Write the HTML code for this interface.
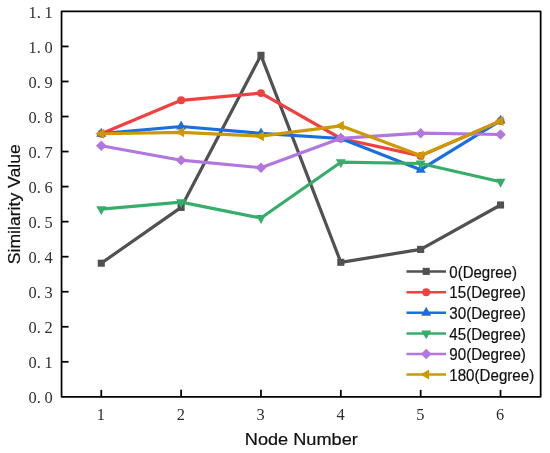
<!DOCTYPE html>
<html lang="en">
<head>
<meta charset="utf-8">
<title>Similarity Value vs Node Number</title>
<style>
html,body{margin:0;padding:0;background:#fff;}
body{width:550px;height:453px;overflow:hidden;}
svg{display:block;}
.tick{font-family:"Liberation Serif","Noto Serif CJK SC",serif;font-size:16.4px;fill:#303030;}
.lab{font-family:"Liberation Sans","Noto Sans CJK SC",sans-serif;font-size:16.2px;fill:#111;stroke:#111;stroke-width:0.2px;}
.leg{font-family:"Liberation Sans","Noto Sans CJK SC",sans-serif;font-size:15.6px;fill:#111;stroke:#111;stroke-width:0.2px;}
</style>
</head>
<body>
<svg width="550" height="453" viewBox="0 0 550 453">
<rect x="0" y="0" width="550" height="453" fill="#ffffff"/>
<g><polyline points="101.27,263.20 181.12,207.40 260.98,55.30 340.82,262.30 420.67,249.40 500.52,205.00" fill="none" stroke="#515151" stroke-width="3.2" stroke-linejoin="round" stroke-linecap="butt"/>
<rect x="97.72" y="259.65" width="7.1" height="7.1" fill="#515151"/>
<rect x="177.57" y="203.85" width="7.1" height="7.1" fill="#515151"/>
<rect x="257.43" y="51.75" width="7.1" height="7.1" fill="#515151"/>
<rect x="337.27" y="258.75" width="7.1" height="7.1" fill="#515151"/>
<rect x="417.12" y="245.85" width="7.1" height="7.1" fill="#515151"/>
<rect x="496.97" y="201.45" width="7.1" height="7.1" fill="#515151"/>
</g>
<g><polyline points="101.27,133.70 181.12,100.30 260.98,93.10 340.82,138.50 420.67,155.90 500.52,121.00" fill="none" stroke="#F14040" stroke-width="3.2" stroke-linejoin="round" stroke-linecap="butt"/>
<circle cx="101.27" cy="133.70" r="3.95" fill="#F14040"/>
<circle cx="181.12" cy="100.30" r="3.95" fill="#F14040"/>
<circle cx="260.98" cy="93.10" r="3.95" fill="#F14040"/>
<circle cx="340.82" cy="138.50" r="3.95" fill="#F14040"/>
<circle cx="420.67" cy="155.90" r="3.95" fill="#F14040"/>
<circle cx="500.52" cy="121.00" r="3.95" fill="#F14040"/>
</g>
<g><polyline points="101.27,133.70 181.12,126.50 260.98,133.40 340.82,138.50 420.67,169.70 500.52,120.60" fill="none" stroke="#1A6FDF" stroke-width="3.2" stroke-linejoin="round" stroke-linecap="butt"/>
<polygon points="96.27,136.67 106.27,136.67 101.27,127.77" fill="#1A6FDF"/>
<polygon points="176.12,129.47 186.12,129.47 181.12,120.57" fill="#1A6FDF"/>
<polygon points="255.98,136.37 265.98,136.37 260.98,127.47" fill="#1A6FDF"/>
<polygon points="335.82,141.47 345.82,141.47 340.82,132.57" fill="#1A6FDF"/>
<polygon points="415.67,172.67 425.67,172.67 420.67,163.77" fill="#1A6FDF"/>
<polygon points="495.52,123.57 505.52,123.57 500.52,114.67" fill="#1A6FDF"/>
</g>
<g><polyline points="101.27,209.10 181.12,202.10 260.98,218.00 340.82,162.20 420.67,163.50 500.52,181.80" fill="none" stroke="#37AD6B" stroke-width="3.2" stroke-linejoin="round" stroke-linecap="butt"/>
<polygon points="96.27,206.13 106.27,206.13 101.27,215.03" fill="#37AD6B"/>
<polygon points="176.12,199.13 186.12,199.13 181.12,208.03" fill="#37AD6B"/>
<polygon points="255.98,215.03 265.98,215.03 260.98,223.93" fill="#37AD6B"/>
<polygon points="335.82,159.23 345.82,159.23 340.82,168.13" fill="#37AD6B"/>
<polygon points="415.67,160.53 425.67,160.53 420.67,169.43" fill="#37AD6B"/>
<polygon points="495.52,178.83 505.52,178.83 500.52,187.73" fill="#37AD6B"/>
</g>
<g><polyline points="101.27,145.70 181.12,160.20 260.98,167.70 340.82,138.30 420.67,133.20 500.52,134.50" fill="none" stroke="#B177DE" stroke-width="3.2" stroke-linejoin="round" stroke-linecap="butt"/>
<polygon points="95.97,145.70 101.27,140.40 106.57,145.70 101.27,151.00" fill="#B177DE"/>
<polygon points="175.82,160.20 181.12,154.90 186.43,160.20 181.12,165.50" fill="#B177DE"/>
<polygon points="255.68,167.70 260.98,162.40 266.28,167.70 260.98,173.00" fill="#B177DE"/>
<polygon points="335.52,138.30 340.82,133.00 346.12,138.30 340.82,143.60" fill="#B177DE"/>
<polygon points="415.37,133.20 420.67,127.90 425.97,133.20 420.67,138.50" fill="#B177DE"/>
<polygon points="495.22,134.50 500.52,129.20 505.82,134.50 500.52,139.80" fill="#B177DE"/>
</g>
<g><polyline points="101.27,133.75 181.12,132.30 260.98,136.20 340.82,125.80 420.67,155.50 500.52,121.10" fill="none" stroke="#CC9900" stroke-width="3.2" stroke-linejoin="round" stroke-linecap="butt"/>
<polygon points="104.24,128.75 104.24,138.75 95.34,133.75" fill="#CC9900"/>
<polygon points="184.09,127.30 184.09,137.30 175.19,132.30" fill="#CC9900"/>
<polygon points="263.94,131.20 263.94,141.20 255.04,136.20" fill="#CC9900"/>
<polygon points="343.79,120.80 343.79,130.80 334.89,125.80" fill="#CC9900"/>
<polygon points="423.64,150.50 423.64,160.50 414.74,155.50" fill="#CC9900"/>
<polygon points="503.49,116.10 503.49,126.10 494.59,121.10" fill="#CC9900"/>
</g>
<rect x="61.55" y="11.4" width="479.10" height="385.45" fill="none" stroke="#000" stroke-width="1.75" stroke-linejoin="round"/>
<line x1="61.55" y1="361.81" x2="68.55" y2="361.81" stroke="#000" stroke-width="1.75"/>
<line x1="61.55" y1="326.77" x2="68.55" y2="326.77" stroke="#000" stroke-width="1.75"/>
<line x1="61.55" y1="291.73" x2="68.55" y2="291.73" stroke="#000" stroke-width="1.75"/>
<line x1="61.55" y1="256.69" x2="68.55" y2="256.69" stroke="#000" stroke-width="1.75"/>
<line x1="61.55" y1="221.65" x2="68.55" y2="221.65" stroke="#000" stroke-width="1.75"/>
<line x1="61.55" y1="186.60" x2="68.55" y2="186.60" stroke="#000" stroke-width="1.75"/>
<line x1="61.55" y1="151.56" x2="68.55" y2="151.56" stroke="#000" stroke-width="1.75"/>
<line x1="61.55" y1="116.52" x2="68.55" y2="116.52" stroke="#000" stroke-width="1.75"/>
<line x1="61.55" y1="81.48" x2="68.55" y2="81.48" stroke="#000" stroke-width="1.75"/>
<line x1="61.55" y1="46.44" x2="68.55" y2="46.44" stroke="#000" stroke-width="1.75"/>
<text class="tick" y="403.15" text-anchor="middle"><tspan x="32.6">0</tspan><tspan x="38.9">.</tspan><tspan x="48.6">0</tspan></text>
<text class="tick" y="368.11" text-anchor="middle"><tspan x="32.6">0</tspan><tspan x="38.9">.</tspan><tspan x="48.6">1</tspan></text>
<text class="tick" y="333.07" text-anchor="middle"><tspan x="32.6">0</tspan><tspan x="38.9">.</tspan><tspan x="48.6">2</tspan></text>
<text class="tick" y="298.03" text-anchor="middle"><tspan x="32.6">0</tspan><tspan x="38.9">.</tspan><tspan x="48.6">3</tspan></text>
<text class="tick" y="262.99" text-anchor="middle"><tspan x="32.6">0</tspan><tspan x="38.9">.</tspan><tspan x="48.6">4</tspan></text>
<text class="tick" y="227.95" text-anchor="middle"><tspan x="32.6">0</tspan><tspan x="38.9">.</tspan><tspan x="48.6">5</tspan></text>
<text class="tick" y="192.90" text-anchor="middle"><tspan x="32.6">0</tspan><tspan x="38.9">.</tspan><tspan x="48.6">6</tspan></text>
<text class="tick" y="157.86" text-anchor="middle"><tspan x="32.6">0</tspan><tspan x="38.9">.</tspan><tspan x="48.6">7</tspan></text>
<text class="tick" y="122.82" text-anchor="middle"><tspan x="32.6">0</tspan><tspan x="38.9">.</tspan><tspan x="48.6">8</tspan></text>
<text class="tick" y="87.78" text-anchor="middle"><tspan x="32.6">0</tspan><tspan x="38.9">.</tspan><tspan x="48.6">9</tspan></text>
<text class="tick" y="52.74" text-anchor="middle"><tspan x="32.6">1</tspan><tspan x="38.9">.</tspan><tspan x="48.6">0</tspan></text>
<text class="tick" y="17.70" text-anchor="middle"><tspan x="32.6">1</tspan><tspan x="38.9">.</tspan><tspan x="48.6">1</tspan></text>
<line x1="101.27" y1="396.85" x2="101.27" y2="389.85" stroke="#000" stroke-width="1.75"/>
<text class="tick" x="100.97" y="419.5" text-anchor="middle">1</text>
<line x1="181.12" y1="396.85" x2="181.12" y2="389.85" stroke="#000" stroke-width="1.75"/>
<text class="tick" x="180.82" y="419.5" text-anchor="middle">2</text>
<line x1="260.98" y1="396.85" x2="260.98" y2="389.85" stroke="#000" stroke-width="1.75"/>
<text class="tick" x="260.68" y="419.5" text-anchor="middle">3</text>
<line x1="340.82" y1="396.85" x2="340.82" y2="389.85" stroke="#000" stroke-width="1.75"/>
<text class="tick" x="340.52" y="419.5" text-anchor="middle">4</text>
<line x1="420.67" y1="396.85" x2="420.67" y2="389.85" stroke="#000" stroke-width="1.75"/>
<text class="tick" x="420.37" y="419.5" text-anchor="middle">5</text>
<line x1="500.52" y1="396.85" x2="500.52" y2="389.85" stroke="#000" stroke-width="1.75"/>
<text class="tick" x="500.22" y="419.5" text-anchor="middle">6</text>
<text class="lab" x="301.3" y="445.4" text-anchor="middle" textLength="113" lengthAdjust="spacingAndGlyphs">Node Number</text>
<text class="lab" transform="translate(19.7,204.2) rotate(-90)" text-anchor="middle" textLength="120" lengthAdjust="spacingAndGlyphs">Similarity Value</text>
<line x1="406.5" y1="271.4" x2="446" y2="271.4" stroke="#515151" stroke-width="2.5"/>
<rect x="422.65" y="267.85" width="7.1" height="7.1" fill="#515151"/>
<text class="leg" x="449.3" y="277.50" textLength="67.6" lengthAdjust="spacingAndGlyphs">0(Degree)</text>
<line x1="406.5" y1="292.3" x2="446" y2="292.3" stroke="#F14040" stroke-width="2.5"/>
<circle cx="426.20" cy="292.30" r="3.95" fill="#F14040"/>
<text class="leg" x="449.3" y="298.40" textLength="76.6" lengthAdjust="spacingAndGlyphs">15(Degree)</text>
<line x1="406.5" y1="312.7" x2="446" y2="312.7" stroke="#1A6FDF" stroke-width="2.5"/>
<polygon points="421.20,315.67 431.20,315.67 426.20,306.77" fill="#1A6FDF"/>
<text class="leg" x="449.3" y="318.80" textLength="76.6" lengthAdjust="spacingAndGlyphs">30(Degree)</text>
<line x1="406.5" y1="333.4" x2="446" y2="333.4" stroke="#37AD6B" stroke-width="2.5"/>
<polygon points="421.20,330.43 431.20,330.43 426.20,339.33" fill="#37AD6B"/>
<text class="leg" x="449.3" y="339.50" textLength="76.6" lengthAdjust="spacingAndGlyphs">45(Degree)</text>
<line x1="406.5" y1="354.0" x2="446" y2="354.0" stroke="#B177DE" stroke-width="2.5"/>
<polygon points="420.90,354.00 426.20,348.70 431.50,354.00 426.20,359.30" fill="#B177DE"/>
<text class="leg" x="449.3" y="360.10" textLength="76.6" lengthAdjust="spacingAndGlyphs">90(Degree)</text>
<line x1="406.5" y1="374.6" x2="446" y2="374.6" stroke="#CC9900" stroke-width="2.5"/>
<polygon points="429.17,369.60 429.17,379.60 420.27,374.60" fill="#CC9900"/>
<text class="leg" x="449.3" y="380.70" textLength="84.9" lengthAdjust="spacingAndGlyphs">180(Degree)</text>
</svg>
</body>
</html>
